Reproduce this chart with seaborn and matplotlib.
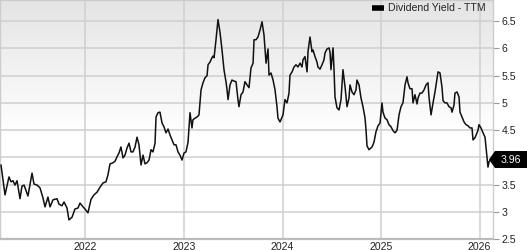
import numpy as np
import pandas as pd
import matplotlib
matplotlib.use("Agg")
import matplotlib.pyplot as plt
from matplotlib.patches import Polygon
from matplotlib.lines import Line2D
import matplotlib.transforms as mtransforms
import seaborn as sns

# ---- data (decimal year, dividend yield %) ----
year = [
    2021.142, 2021.183, 2021.223, 2021.244, 2021.264, 2021.284, 2021.305, 2021.335, 2021.355, 2021.376,
    2021.416, 2021.457, 2021.477, 2021.508, 2021.538, 2021.569, 2021.589, 2021.619, 2021.640, 2021.670,
    2021.711, 2021.731, 2021.761, 2021.782, 2021.812, 2021.832, 2021.863, 2021.893, 2021.924, 2021.944,
    2021.975, 2021.995, 2022.025, 2022.056, 2022.086, 2022.117, 2022.147, 2022.178, 2022.208, 2022.228,
    2022.249, 2022.279, 2022.300, 2022.320, 2022.340, 2022.360, 2022.381, 2022.401, 2022.421, 2022.442,
    2022.462, 2022.482, 2022.503, 2022.523, 2022.543, 2022.564, 2022.584, 2022.604, 2022.624, 2022.645,
    2022.665, 2022.685, 2022.706, 2022.716, 2022.736, 2022.756, 2022.777, 2022.797, 2022.817, 2022.838,
    2022.858, 2022.878, 2022.899, 2022.919, 2022.939, 2022.959, 2022.980, 2023.000, 2023.020, 2023.041,
    2023.061, 2023.081, 2023.091, 2023.112, 2023.132, 2023.152, 2023.173, 2023.193, 2023.213, 2023.234,
    2023.244, 2023.264, 2023.284, 2023.294, 2023.305, 2023.325, 2023.345, 2023.366, 2023.386, 2023.406,
    2023.426, 2023.437, 2023.447, 2023.467, 2023.487, 2023.508, 2023.528, 2023.548, 2023.558, 2023.579,
    2023.599, 2023.619, 2023.640, 2023.660, 2023.680, 2023.701, 2023.711, 2023.731, 2023.751, 2023.772,
    2023.792, 2023.812, 2023.833, 2023.853, 2023.863, 2023.883, 2023.904, 2023.924, 2023.944, 2023.954,
    2023.975, 2024.005, 2024.025, 2024.046, 2024.066, 2024.076, 2024.097, 2024.117, 2024.137, 2024.157,
    2024.178, 2024.198, 2024.208, 2024.228, 2024.249, 2024.259, 2024.279, 2024.300, 2024.310, 2024.330,
    2024.350, 2024.360, 2024.381, 2024.401, 2024.421, 2024.432, 2024.452, 2024.472, 2024.482, 2024.492,
    2024.513, 2024.523, 2024.533, 2024.553, 2024.574, 2024.594, 2024.614, 2024.635, 2024.655, 2024.675,
    2024.685, 2024.706, 2024.726, 2024.746, 2024.756, 2024.777, 2024.797, 2024.817, 2024.838, 2024.848,
    2024.858, 2024.878, 2024.909, 2024.929, 2024.949, 2024.970, 2024.990, 2025.010, 2025.020, 2025.041,
    2025.061, 2025.081, 2025.102, 2025.122, 2025.142, 2025.163, 2025.183, 2025.203, 2025.223, 2025.244,
    2025.264, 2025.274, 2025.294, 2025.315, 2025.325, 2025.345, 2025.366, 2025.376, 2025.396, 2025.416,
    2025.437, 2025.457, 2025.477, 2025.487, 2025.508, 2025.528, 2025.548, 2025.569, 2025.579, 2025.599,
    2025.619, 2025.630, 2025.650, 2025.670, 2025.690, 2025.711, 2025.721, 2025.741, 2025.751, 2025.772,
    2025.792, 2025.802, 2025.822, 2025.843, 2025.863, 2025.883, 2025.904, 2025.924, 2025.934, 2025.954,
    2025.975, 2025.985, 2025.995, 2026.015, 2026.036, 2026.056, 2026.066, 2026.086, 2026.097, 2026.117,
    2026.127,
]
dividend_yield = [
    3.86, 3.31, 3.64, 3.55, 3.57, 3.49, 3.57, 3.24, 3.47, 3.49,
    3.29, 3.71, 3.51, 3.49, 3.44, 3.25, 3.09, 3.27, 3.09, 3.22,
    3.24, 3.14, 3.11, 3.18, 3.07, 2.85, 2.90, 3.05, 3.07, 3.16,
    3.09, 3.05, 2.98, 3.23, 3.31, 3.36, 3.45, 3.53, 3.55, 3.68,
    3.88, 3.90, 3.93, 4.01, 4.08, 4.19, 3.99, 4.04, 4.17, 4.26,
    4.10, 4.10, 4.19, 4.37, 4.23, 3.86, 4.04, 3.88, 3.90, 3.95,
    4.14, 4.10, 4.26, 4.74, 4.82, 4.83, 4.63, 4.56, 4.45, 4.52,
    4.41, 4.32, 4.23, 4.23, 4.10, 4.04, 3.95, 4.08, 4.10, 4.28,
    4.82, 4.54, 4.69, 4.72, 4.74, 4.78, 5.24, 5.37, 5.46, 5.50,
    5.70, 5.75, 5.83, 5.86, 5.83, 6.16, 6.53, 6.29, 5.97, 5.61,
    5.39, 5.24, 5.06, 5.33, 5.42, 5.40, 5.39, 5.06, 4.93, 5.15,
    5.20, 5.39, 5.33, 5.28, 5.64, 5.73, 6.16, 6.16, 6.21, 6.34,
    6.49, 6.25, 5.73, 5.99, 5.51, 5.55, 5.42, 5.24, 4.93, 4.72,
    4.65, 4.78, 5.06, 5.00, 5.18, 5.51, 5.57, 5.66, 5.70, 5.66,
    5.73, 5.66, 5.79, 5.85, 5.57, 5.94, 6.21, 5.94, 5.97, 5.85,
    5.75, 5.66, 5.62, 5.70, 5.79, 5.92, 5.99, 6.01, 5.94, 5.61,
    6.01, 5.61, 5.11, 4.91, 4.87, 5.06, 5.61, 5.29, 4.93, 5.09,
    5.33, 5.20, 5.15, 5.24, 5.42, 5.33, 5.09, 4.93, 4.72, 4.50,
    4.21, 4.14, 4.19, 4.28, 4.47, 4.58, 4.63, 5.00, 4.83, 4.72,
    4.69, 4.60, 4.56, 4.49, 4.45, 4.50, 4.78, 4.93, 5.00, 5.33,
    5.48, 5.37, 5.26, 5.26, 5.00, 5.15, 4.98, 5.09, 5.18, 5.18,
    5.24, 5.33, 5.37, 5.11, 4.78, 5.00, 5.20, 5.46, 5.57, 5.55,
    5.29, 5.04, 5.00, 5.00, 4.93, 4.91, 4.83, 4.96, 5.18, 5.20,
    5.11, 4.83, 4.74, 4.65, 4.60, 4.58, 4.54, 4.54, 4.32, 4.36,
    4.45, 4.50, 4.60, 4.54, 4.45, 4.37, 4.19, 3.82, 3.92, 3.96,
    3.96,
]
x_ticks = [2022, 2023, 2024, 2025, 2026]
x_tick_labels = ["2022", "2023", "2024", "2025", "2026"]
y_ticks = [2.5, 3, 3.5, 4, 4.5, 5, 5.5, 6, 6.5]
y_tick_labels = ["2.5", "3", "3.5", "4", "4.5", "5", "5.5", "6", "6.5"]
series_name = "Dividend Yield - TTM"
last_label = "3.96"

df = pd.DataFrame({"year": year, "value": dividend_yield})

sns.set_style("white")
plt.rcParams["font.family"] = ["Liberation Sans", "DejaVu Sans"]

W, H, DPI = 527, 250, 100
fig = plt.figure(figsize=(W / DPI, H / DPI), dpi=DPI)
fig.patch.set_facecolor("white")
ax = fig.add_axes([0, 11 / H, 493 / W, 239 / H])

# gradient background: light grey at top fading to white
grad = np.concatenate([np.linspace(0.895, 1.0, 256), np.ones(200)])[:, None]
ax.imshow(np.dstack([grad, grad, grad]), extent=[0, 1, 0, 1], transform=ax.transAxes,
          aspect="auto", zorder=0, interpolation="bilinear", origin="upper")

sns.lineplot(data=df, x="year", y="value", ax=ax, color="#111111", linewidth=1.1,
             zorder=3, legend=False, estimator=None, sort=False)

ax.set_xlim(2021.132, 2026.137)
ax.set_ylim(2.5, 6.89)

ax.set_xticks(x_ticks)
ax.set_xticklabels(x_tick_labels)
ax.set_yticks(y_ticks)
ax.set_yticklabels(y_tick_labels)
ax.yaxis.tick_right()
ax.tick_params(axis="y", which="both", direction="out", length=4, width=0.8,
               color="#999999", labelsize=7.6, labelcolor="#222222", pad=2)
ax.tick_params(axis="x", length=0, labelsize=7.6, labelcolor="#222222", pad=2)
ax.grid(True, color="#cfcfcf", linewidth=1.1, zorder=1)
ax.set_axisbelow(True)
ax.set_xlabel("")
ax.set_ylabel("")

for side in ["left", "top", "right"]:
    ax.spines[side].set_color("#cccccc")
    ax.spines[side].set_linewidth(1.0)
ax.spines["bottom"].set_color("#bbbbbb")
ax.spines["bottom"].set_linewidth(1.6)

# tick labels hidden behind the last-value tag
for tv, lab in zip(y_ticks, ax.get_yticklabels()):
    if abs(tv - dividend_yield[-1]) < 0.2:
        lab.set_visible(False)

# legend
handle = Line2D([0], [0], color="black", linewidth=4, solid_capstyle="butt")
ax.legend([handle], [series_name], loc="upper right", bbox_to_anchor=(0.99, 0.995),
          frameon=False, fontsize=7.6, handlelength=1.1, handletextpad=0.45,
          borderaxespad=0, borderpad=0.2)

# last value tag
fig.canvas.draw()
ax0, ay0 = ax.get_yaxis_transform().transform((1.0, dividend_yield[-1]))
verts = [(ax0 - 4, ay0), (ax0 + 2, ay0 + 8.5), (ax0 + 34, ay0 + 8.5),
         (ax0 + 34, ay0 - 8.5), (ax0 + 2, ay0 - 8.5)]
poly = Polygon(verts, closed=True, facecolor="black", edgecolor="none",
               transform=mtransforms.IdentityTransform(), zorder=10, clip_on=False)
fig.add_artist(poly)
fig.text((ax0 + 18) / W, ay0 / H, last_label, color="white", fontsize=7.6,
         ha="center", va="center", zorder=11)

fig.savefig("out.png", dpi=DPI)
